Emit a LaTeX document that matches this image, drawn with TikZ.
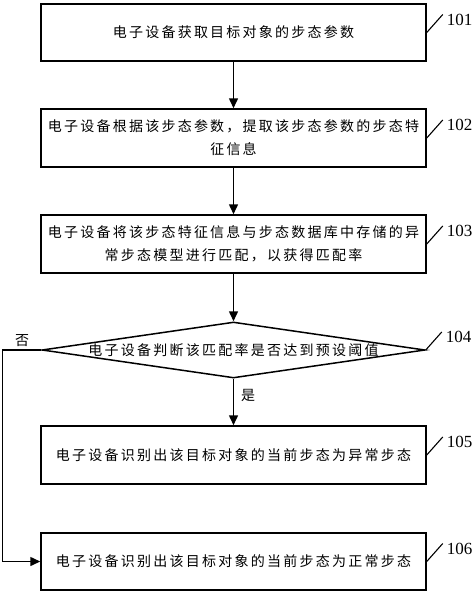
\documentclass[tikz,border=0pt]{standalone}
\usepackage{fontspec}
\setmainfont{Liberation Serif}
\newfontfamily\cjk[LetterSpace=16]{Noto Sans CJK SC}
\usetikzlibrary{arrows.meta,shapes.geometric}
\begin{document}
\begin{tikzpicture}[x=1pt,y=-1pt,
  box/.style={draw, line width=1.5pt, minimum width=385pt, minimum height=57pt, inner sep=0pt,
    font=\cjk\fontsize{14}{23}\selectfont, align=center},
  dia/.style={draw, diamond, line width=1.5pt, minimum width=383pt, minimum height=56pt, inner sep=0pt},
  txt/.style={font=\cjk\fontsize{14}{23}\selectfont},
  arr/.style={line width=1.5pt, -{Triangle[length=10pt,width=9pt]}},
  tick/.style={line width=1.1pt},
  num/.style={font=\fontsize{17}{17}\selectfont, anchor=west, inner sep=0pt}]
\useasboundingbox (0,0) rectangle (474,594);
\node[box] (b1) at (233.5,32.5) {电子设备获取目标对象的步态参数};
\node[box, minimum height=58pt] (b2) at (233.5,138) {电子设备根据该步态参数，提取该步态参数的步态特\\征信息};
\node[box, minimum height=58pt] (b3) at (233.5,244) {电子设备将该步态特征信息与步态数据库中存储的异\\常步态模型进行匹配，以获得匹配率};
\node[dia] (d) at (233.5,350) {};
\node[txt] (dt) at (d.center) {电子设备判断该匹配率是否达到预设阈值};
\node[box, minimum height=58pt] (b5) at (233.5,455) {电子设备识别出该目标对象的当前步态为异常步态};
\node[box] (b6) at (233.5,561.5) {电子设备识别出该目标对象的当前步态为正常步态};

\draw[arr] (b1) -- (b2);
\draw[arr] (b2) -- (b3);
\draw[arr] (b3) -- (d);
\draw[arr] (d.south) -- (b5.north);
\draw[arr] (d.west) -- ++(-39,0) coordinate (c1) |- (b6.west);
\node[txt] (yes) at (248,395) {是};
\node[txt] (no) at (22,341) {否};

\foreach \n/\lab in {b1/101,b2/102,b3/103,d/104,b5/105,b6/106}{
  \draw[tick] (\n.east) -- ++(16,-18) coordinate (t\lab);
  \node[num] (n\lab) at ([shift={(4,5)}]t\lab) {\lab};
}
\end{tikzpicture}
\end{document}
